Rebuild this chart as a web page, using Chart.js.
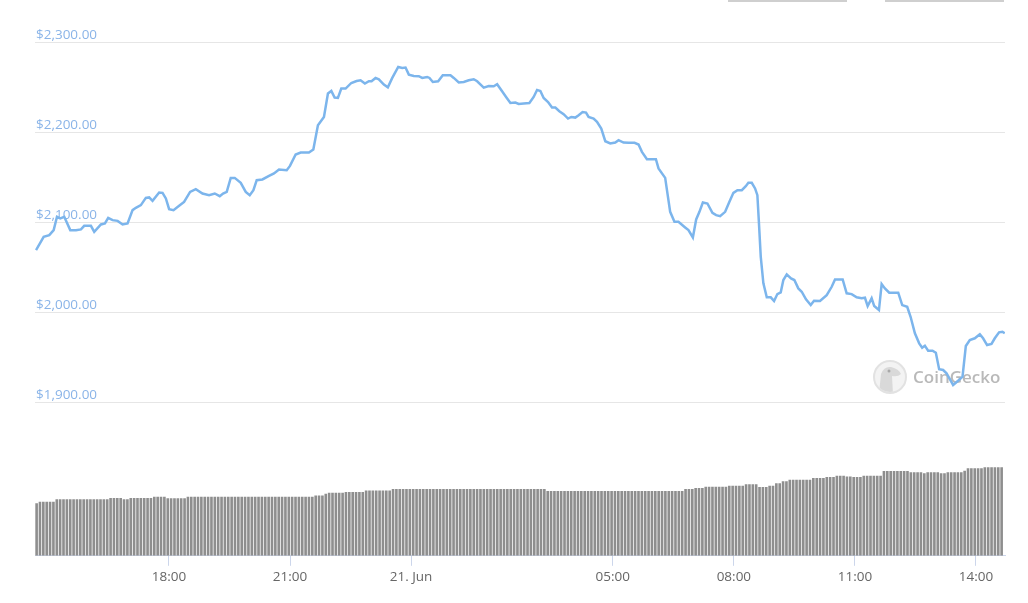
<!DOCTYPE html>
<html><head><meta charset="utf-8">
<script src="https://cdn.jsdelivr.net/npm/chart.js@4.4.0/dist/chart.umd.min.js"></script>
<style>
html,body{margin:0;padding:0;background:#fff;}
#wrap{position:relative;width:1028px;height:603px;overflow:hidden;}
.btn{position:absolute;top:0;height:2px;background:#cfcfcf;}
</style></head><body>
<div id="wrap">
<canvas id="c" width="1028" height="603"></canvas>
<div class="btn" style="left:728px;width:119px"></div>
<div class="btn" style="left:885px;width:119px"></div>
</div>
<script>
// time in hours since 00:00 on 20 Jun (values > 24 fall on 21 Jun)
const lineTimes = [
14.705,14.895,15.034,15.143,15.225,15.306,15.405,15.554,15.695,15.819,
15.900,16.066,16.148,16.314,16.413,16.494,16.603,16.727,16.851,16.974,
17.098,17.180,17.304,17.427,17.509,17.593,17.757,17.841,17.923,18.004,
18.113,18.252,18.375,18.524,18.665,18.831,18.994,19.135,19.259,19.341,
19.432,19.531,19.630,19.779,19.903,20.002,20.093,20.175,20.316,20.480,
20.603,20.727,20.918,20.999,21.140,21.264,21.469,21.578,21.692,21.841,
21.940,22.024,22.106,22.187,22.271,22.378,22.519,22.650,22.749,
22.856,22.955,23.021,23.120,23.202,23.326,23.425,23.534,23.682,23.781,
23.863,23.945,24.068,24.192,24.276,24.400,24.457,24.539,24.672,24.786,
24.977,25.059,25.182,25.306,25.430,25.554,25.638,25.801,25.925,26.049,
26.133,26.256,26.355,26.462,26.586,26.667,26.791,26.932,27.039,27.123,
27.205,27.286,27.395,27.494,27.576,27.675,27.781,27.890,27.972,28.071,
28.153,28.251,28.336,28.400,28.524,28.608,28.714,28.814,28.937,29.061,
29.143,29.266,29.390,29.539,29.638,29.722,29.846,29.952,30.068,30.133,
30.298,30.422,30.528,30.627,
30.793,30.875,30.984,31.066,31.147,31.232,31.345,31.469,31.561,31.660,
31.784,31.890,31.989,32.088,32.197,32.296,32.360,32.444,32.526,32.583,
32.618,32.667,32.732,32.816,32.915,32.997,33.078,33.162,33.227,33.311,
33.417,33.499,33.598,33.682,33.788,33.905,33.987,34.135,34.301,34.425,
34.507,34.697,34.796,34.920,35.044,35.167,35.249,35.316,35.415,35.479,
35.596,35.663,35.744,35.851,35.967,36.074,36.173,36.296,36.380,36.487,
36.593,36.667,36.734,36.815,36.924,37.006,37.088,37.187,37.271,37.434,
37.558,37.667,37.749,37.848,37.972,38.096,38.177,38.276,38.385,38.467,
38.573,38.657,38.714
];
const linePrices = [
2068.9,2083.7,2085.6,2091.1,2105.9,2104.1,2105.9,2091.1,2091.1,2091.9,
2095.9,2095.9,2089.2,2097.4,2098.6,2104.8,2102.2,2101.4,2097.4,2098.6,
2113.3,2115.9,2118.9,2126.9,2127.4,2123.6,2132.9,2132.5,2126.3,2114.4,
2113.3,2118.1,2122.5,2133.6,2136.6,2131.8,2129.9,2131.8,2128.8,2131.8,
2133.6,2149.1,2149.1,2143.6,2133.6,2129.9,2135.5,2146.6,2147.4,2151.4,
2154.0,2158.5,2157.7,2162.4,2175.1,2177.3,2177.3,2180.6,2207.6,2216.8,
2242.8,2245.6,2238.3,2237.9,2248.3,2248.3,2254.5,2256.7,2257.5,
2253.9,2256.4,2256.4,2260.1,2258.6,2252.7,2249.7,2260.1,2272.3,2271.2,
2271.6,2263.8,2262.3,2262.0,2260.1,2261.2,2260.1,2255.6,2256.4,2263.1,
2263.1,2260.1,2255.0,2255.6,2257.5,2258.6,2256.4,2249.4,2251.2,2250.9,
2253.1,2245.3,2239.0,2232.3,2232.8,2231.2,2231.7,2232.3,2239.0,2246.8,
2245.6,2237.9,2233.4,2227.2,2227.2,2223.1,2219.8,2215.0,2216.8,2216.1,
2218.7,2222.3,2221.7,2216.8,2215.0,2211.3,2203.9,2189.8,2187.3,2188.4,
2191.0,2188.4,2188.0,2188.0,2186.2,2178.0,2169.9,2169.9,2169.9,2159.6,
2149.1,2111.4,2100.3,2100.3,
2094.1,2091.1,2083.0,2103.0,2111.4,2121.8,2120.7,2110.3,2107.8,2106.6,
2111.4,2122.5,2132.5,2135.5,2135.5,2139.9,2143.6,2143.6,2137.4,2129.9,
2102.2,2061.5,2032.0,2016.5,2016.5,2012.4,2020.1,2022.0,2035.7,2042.0,
2037.5,2035.7,2026.4,2022.7,2014.2,2007.9,2012.7,2012.4,2019.0,2028.2,
2036.4,2036.4,2020.9,2020.1,2016.5,2015.4,2016.0,2006.8,2015.4,2006.8,
2002.4,2031.2,2026.4,2021.6,2021.6,2021.6,2007.9,2006.0,1994.9,1976.5,
1965.4,1960.6,1962.8,1957.2,1957.2,1955.0,1936.6,1935.8,1932.2,1919.2,
1923.9,1928.4,1962.4,1969.1,1971.0,1975.4,1971.0,1963.5,1964.7,1971.0,
1977.6,1978.3,1976.5
];
// 24h volume (billions USD), one bar every 5 minutes
const volStartHour = 14.72;
const volStepHour = 5 / 60;
const volumes = [
16.4,16.8,16.8,16.8,16.8,16.8,17.6,17.6,17.6,17.6,17.6,17.6,
17.6,17.6,17.6,17.6,17.6,17.6,17.6,17.6,17.6,17.6,18.0,18.0,
18.0,18.0,17.6,17.6,18.0,18.0,18.0,18.0,18.0,18.0,18.0,18.4,
18.4,18.4,18.4,17.9,17.9,17.9,17.9,17.9,17.9,18.4,18.4,18.4,
18.4,18.4,18.4,18.4,18.4,18.4,18.4,18.4,18.4,18.4,18.4,18.4,
18.4,18.4,18.4,18.4,18.4,18.4,18.4,18.4,18.4,18.4,18.4,18.4,
18.4,18.4,18.4,18.4,18.4,18.4,18.4,18.4,18.4,18.4,18.4,18.8,
18.8,18.8,19.3,19.6,19.6,19.6,19.6,19.6,19.9,19.9,19.9,19.9,
19.9,19.9,20.3,20.3,20.3,20.3,20.3,20.3,20.3,20.3,20.8,20.8,
20.8,20.8,20.8,20.8,20.8,20.8,20.8,20.8,20.8,20.8,20.8,20.8,
20.8,20.8,20.8,20.8,20.8,20.8,20.8,20.8,20.8,20.8,20.8,20.8,
20.8,20.8,20.8,20.8,20.8,20.8,20.8,20.8,20.8,20.8,20.8,20.8,
20.8,20.8,20.8,20.8,20.8,20.8,20.8,20.8,20.2,20.2,20.2,20.2,
20.2,20.2,20.2,20.2,20.2,20.2,20.2,20.2,20.2,20.2,20.2,20.2,
20.2,20.2,20.2,20.2,20.2,20.2,20.2,20.2,20.2,20.2,20.2,20.2,
20.2,20.2,20.2,20.2,20.2,20.2,20.2,20.2,20.2,20.2,20.2,20.2,
20.2,20.8,20.8,20.8,21.1,21.1,21.1,21.5,21.5,21.5,21.5,21.5,
21.5,21.5,21.8,21.8,21.8,21.8,21.8,22.3,22.3,22.3,22.3,21.4,
21.4,21.4,21.8,21.8,22.6,22.6,23.2,23.2,23.7,23.7,23.7,23.7,
23.7,23.7,23.7,24.2,24.2,24.2,24.2,24.5,24.5,24.5,24.9,24.9,
24.9,24.7,24.7,24.5,24.5,24.5,24.9,24.9,24.9,24.9,24.9,24.9,
26.4,26.4,26.4,26.4,26.4,26.4,26.4,26.4,26.0,26.0,26.0,26.0,
25.7,26.0,26.0,26.0,26.0,25.7,25.7,26.0,26.0,26.0,26.0,26.0,
26.5,27.3,27.3,27.3,27.3,27.3,27.6,27.6,27.6,27.6,27.6,27.6
];
const priceTicks = [1900, 2000, 2100, 2200, 2300];
const timeTickHours = [18, 21, 24, 29, 32, 35, 38];
const timeTickLabels = ['18:00', '21:00', '21. Jun', '05:00', '08:00', '11:00', '14:00'];

Chart.defaults.font.family = '"Open Sans", "DejaVu Sans", sans-serif';
Chart.defaults.font.size = 13.5;

const watermark = {
  id: 'watermark',
  beforeDatasetsDraw(chart) {
    const ctx = chart.ctx, a = chart.chartArea;
    const cx = a.right - 115, cy = 377, r = 16;
    ctx.save();
    ctx.beginPath(); ctx.arc(cx, cy, r, 0, Math.PI * 2);
    ctx.fillStyle = '#f3f3f3'; ctx.fill();
    ctx.lineWidth = 2; ctx.strokeStyle = '#e2e2e2'; ctx.stroke();
    ctx.save();
    ctx.beginPath(); ctx.arc(cx, cy, r - 1, 0, Math.PI * 2); ctx.clip();
    ctx.beginPath();
    ctx.moveTo(cx - 11, cy + 17);
    ctx.lineTo(cx - 9, cy - 3);
    ctx.quadraticCurveTo(cx - 6, cy - 11, cx + 1, cy - 10);
    ctx.quadraticCurveTo(cx + 9, cy - 8, cx + 11, cy - 3);
    ctx.quadraticCurveTo(cx + 8, cy, cx + 2, cy - 1);
    ctx.lineTo(cx + 3, cy + 17);
    ctx.closePath();
    ctx.fillStyle = '#d9d9d9'; ctx.fill();
    ctx.beginPath(); ctx.arc(cx - 1, cy - 6, 1.5, 0, Math.PI * 2);
    ctx.fillStyle = '#a8a8a8'; ctx.fill();
    ctx.restore();
    ctx.font = '600 17px "Open Sans", sans-serif';
    ctx.fillStyle = '#b9b9b9';
    ctx.textAlign = 'left'; ctx.textBaseline = 'middle';
    ctx.fillText('CoinGecko', cx + 23, cy + 1);
    ctx.restore();
  }
};

new Chart(document.getElementById('c'), {
  type: 'bar',
  data: {
    datasets: [
      {
        type: 'line',
        label: 'Price',
        data: lineTimes.map((t, i) => ({ x: t, y: linePrices[i] })),
        borderColor: '#7cb5ec',
        borderWidth: 2.5,
        pointRadius: 0,
        tension: 0,
        fill: false,
        yAxisID: 'y',
        order: 0
      },
      {
        type: 'bar',
        label: 'Volume',
        data: volumes.map((v, i) => ({ x: volStartHour + i * volStepHour, y: v })),
        backgroundColor: '#8e8e8e',
        borderWidth: 0,
        barPercentage: 0.78,
        categoryPercentage: 1,
        yAxisID: 'y1',
        order: 1
      }
    ]
  },
  options: {
    responsive: false,
    animation: false,
    devicePixelRatio: 1,
    layout: { padding: { left: 33, right: 23, top: 42, bottom: 15 } },
    plugins: { legend: { display: false }, tooltip: { enabled: false } },
    scales: {
      x: {
        type: 'linear',
        min: 14.68,
        max: 38.72,
        offset: false,
        afterBuildTicks(axis) { axis.ticks = timeTickHours.map(v => ({ value: v })); },
        ticks: {
          autoSkip: false, maxRotation: 0, color: '#666666', padding: 3,
          callback: (v, i) => timeTickLabels[i]
        },
        grid: { display: true, drawOnChartArea: false, drawTicks: true, tickLength: 10,
                color: '#ccd6eb', tickColor: '#ccd6eb', offset: false },
        border: { display: true, color: '#ccd6eb', width: 1 }
      },
      y: {
        position: 'left',
        min: 1729.5,
        max: 2300,
        afterBuildTicks(axis) { axis.ticks = priceTicks.map(v => ({ value: v })); },
        ticks: {
          mirror: true, padding: 1, labelOffset: -7, color: '#8ab4e8',
          callback: v => '$' + Number(v).toLocaleString('en-US', { minimumFractionDigits: 2, maximumFractionDigits: 2 })
        },
        grid: { color: '#e6e6e6', drawTicks: false },
        border: { display: false }
      },
      y1: { display: false, min: 0, max: 160 }
    }
  },
  plugins: [watermark]
});
</script>
</body></html>
